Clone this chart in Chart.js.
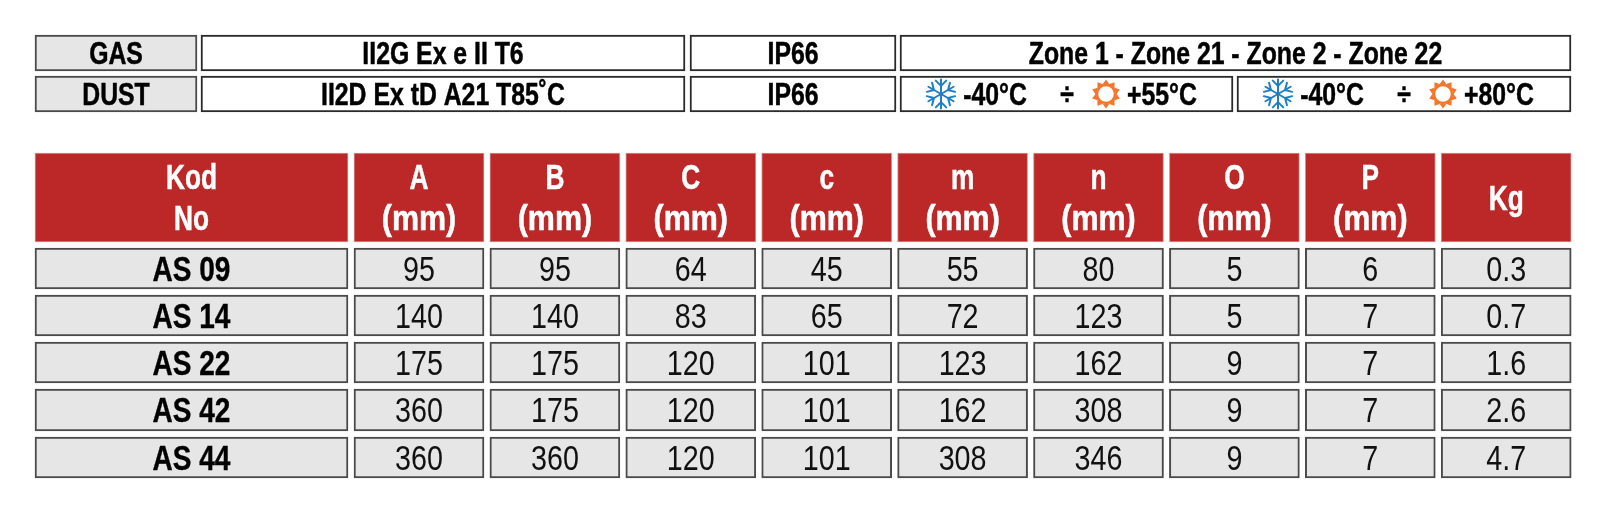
<!DOCTYPE html>
<html lang="pl">
<head>
  <meta charset="UTF-8">
  <title>AS - Kod No</title>
  <script src="https://cdn.jsdelivr.net/npm/chart.js@4"></script>
  <style>
    html, body { margin: 0; padding: 0; background: #fff; }
    #tableChart { display: block; }
  </style>
</head>
<body>
<canvas id="tableChart" width="1606" height="514"></canvas>
<script>
  // Table values
  const codes = ['AS 09', 'AS 14', 'AS 22', 'AS 42', 'AS 44'];
  const headerNames = ['A', 'B', 'C', 'c', 'm', 'n', 'O', 'P', 'Kg'];
  const unitLabel = '(mm)';
  const colA = [95, 140, 175, 360, 360];
  const colB = [95, 140, 175, 175, 360];
  const colC = [64, 83, 120, 120, 120];
  const colc = [45, 65, 101, 101, 101];
  const colm = [55, 72, 123, 162, 308];
  const coln = [80, 123, 162, 308, 346];
  const colO = [5, 5, 9, 9, 9];
  const colP = [6, 7, 7, 7, 7];
  const colKg = [0.3, 0.7, 1.6, 2.6, 4.7];
  const allCols = [colA, colB, colC, colc, colm, coln, colO, colP, colKg];

  const gasRow = ['GAS', 'II2G Ex e II T6', 'IP66', 'Zone 1 - Zone 21 - Zone 2 - Zone 22'];
  const dustRow = ['DUST', 'II2D Ex tD A21 T85˚C', 'IP66'];
  const tempLow = '-40°C';
  const tempHigh = ['+55°C', '+80°C'];

  // Grid of the sheet, in page pixels
  const colEdges = [[35, 348]];
  for (let i = 0; i < 9; i++) colEdges.push([354 + i * 135.9, 484 + i * 135.9]);
  const rowEdges = [[248, 289], [295, 336], [342, 383], [389, 431], [437, 478]];
  const headEdge = [153, 242];
  const topEdges = [[35, 71], [76, 112]];
  const topCols = [[35, 197], [201, 685], [690, 896], [900, 1571]];
  const tempCols = [[900, 1233], [1237, 1571]];

  // Liberation Sans squeezed to the width of the condensed face in the sheet
  const NARROW = 0.82;
  const TOP_NARROW = 0.8;
  const HEAD_NARROW = 0.75;
  const UNIT_NARROW = 0.87;

  const mid = (e) => (e[0] + e[1]) / 2;
  const barAt = (xe, ye) => ({ x: [xe[0], xe[1]], y: mid(ye) });

  const cellSet = (data, h, fill, line, w) => ({
    data, barThickness: h, backgroundColor: fill, borderColor: line,
    borderWidth: w, borderSkipped: false, grouped: false
  });

  const datasets = [
    cellSet(colEdges.map(c => barAt(c, headEdge)), headEdge[1] - headEdge[0], '#bc2828', '#dc8f8f', 1),
    cellSet(topEdges.map(r => barAt(topCols[0], r)), 36, '#e6e6e6', '#4a4a4a', 2),
    cellSet([barAt(topCols[1], topEdges[0]), barAt(topCols[2], topEdges[0]), barAt(topCols[3], topEdges[0]),
             barAt(topCols[1], topEdges[1]), barAt(topCols[2], topEdges[1]),
             barAt(tempCols[0], topEdges[1]), barAt(tempCols[1], topEdges[1])], 36, '#ffffff', '#2a2a2a', 2)
  ];
  rowEdges.forEach(r => {
    datasets.push(cellSet(colEdges.map(c => barAt(c, r)), r[1] - r[0], '#e6e6e6', '#4a4a4a', 2));
  });

  function drawSnow(ctx, x, y, r) {
    ctx.save();
    ctx.translate(x, y);
    ctx.strokeStyle = '#1f7fc4';
    ctx.lineWidth = 2;
    ctx.lineCap = 'round';
    for (let i = 0; i < 6; i++) {
      ctx.beginPath();
      ctx.moveTo(0, 0);
      ctx.lineTo(0, -r);
      ctx.moveTo(-r * 0.36, -r * 0.92);
      ctx.lineTo(0, -r * 0.56);
      ctx.lineTo(r * 0.36, -r * 0.92);
      ctx.stroke();
      ctx.rotate(Math.PI / 3);
    }
    ctx.restore();
  }

  function drawSun(ctx, x, y, r) {
    ctx.save();
    ctx.translate(x, y);
    ctx.strokeStyle = '#f4762a';
    ctx.fillStyle = '#f4762a';
    ctx.lineWidth = 2.4;
    ctx.beginPath();
    ctx.arc(0, 0, r * 0.62, 0, Math.PI * 2);
    ctx.stroke();
    for (let i = 0; i < 10; i++) {
      ctx.beginPath();
      ctx.moveTo(-r * 0.25, -r * 0.66);
      ctx.lineTo(0, -r);
      ctx.lineTo(r * 0.25, -r * 0.66);
      ctx.closePath();
      ctx.fill();
      ctx.rotate(Math.PI / 5);
    }
    ctx.restore();
  }

  // Labels and icons go on top of the bars
  const cellText = {
    id: 'cellText',
    afterDatasetsDraw(chart) {
      const { ctx, scales: { x, y } } = chart;
      const put = (txt, px, py, size, weight, color, squeeze, heavy) => {
        ctx.save();
        ctx.font = weight + ' ' + size + 'px "Liberation Sans"';
        ctx.fillStyle = color;
        ctx.textAlign = 'center';
        ctx.textBaseline = 'alphabetic';
        ctx.translate(x.getPixelForValue(px), y.getPixelForValue(py) + size * 0.345);
        ctx.scale(squeeze || NARROW, 1);
        ctx.fillText(txt, 0, 0);
        if (heavy) {
          // the sheet's face is heavier than Liberation bold
          ctx.strokeStyle = color;
          ctx.lineWidth = heavy;
          ctx.strokeText(txt, 0, 0);
        }
        ctx.restore();
      };

      // Header row
      const head = (t, cx, cy, sq) => put(t, cx, cy, 35, 'bold', '#fff', sq, 0.5);
      head('Kod', mid(colEdges[0]), 177, HEAD_NARROW);
      head('No', mid(colEdges[0]), 218, HEAD_NARROW);
      headerNames.forEach((name, i) => {
        const cx = mid(colEdges[i + 1]);
        if (name === 'Kg') {
          head(name, cx, mid(headEdge), HEAD_NARROW);
        } else {
          head(name, cx, 177, HEAD_NARROW);
          head(unitLabel, cx, 218, UNIT_NARROW);
        }
      });

      // Body rows
      codes.forEach((code, r) => {
        const cy = mid(rowEdges[r]);
        put(code, mid(colEdges[0]), cy, 35, 'bold', '#000', 0.8, 0.4);
        allCols.forEach((col, c) => {
          put(String(col[r]), mid(colEdges[c + 1]), cy, 35, 'normal', '#111', NARROW);
        });
      });

      // Top block
      const top = (t, cx, cy) => put(t, cx, cy, 31, 'bold', '#000', TOP_NARROW, 0.5);
      gasRow.forEach((t, i) => top(t, mid(topCols[i]), mid(topEdges[0])));
      dustRow.forEach((t, i) => top(t, mid(topCols[i]), mid(topEdges[1])));

      const ty = mid(topEdges[1]);
      tempCols.forEach((c, i) => {
        const off = i ? 337 : 0;
        drawSnow(ctx, x.getPixelForValue(941 + off), y.getPixelForValue(ty), 14.5);
        top(tempLow, 995 + off, ty);
        top('÷', 1067 + off, ty);
        drawSun(ctx, x.getPixelForValue(1106 + off), y.getPixelForValue(ty), 14.5);
        top(tempHigh[i], 1162 + off, ty);
      });
    }
  };

  new Chart(document.getElementById('tableChart'), {
    type: 'bar',
    data: { datasets },
    plugins: [cellText],
    options: {
      indexAxis: 'y',
      responsive: false,
      animation: false,
      layout: { padding: 0 },
      plugins: { legend: { display: false }, tooltip: { enabled: false } },
      scales: {
        x: { type: 'linear', min: 0, max: 1606, display: false },
        y: { type: 'linear', min: 0, max: 514, reverse: true, offset: false, display: false }
      }
    }
  });
</script>
</body>
</html>
